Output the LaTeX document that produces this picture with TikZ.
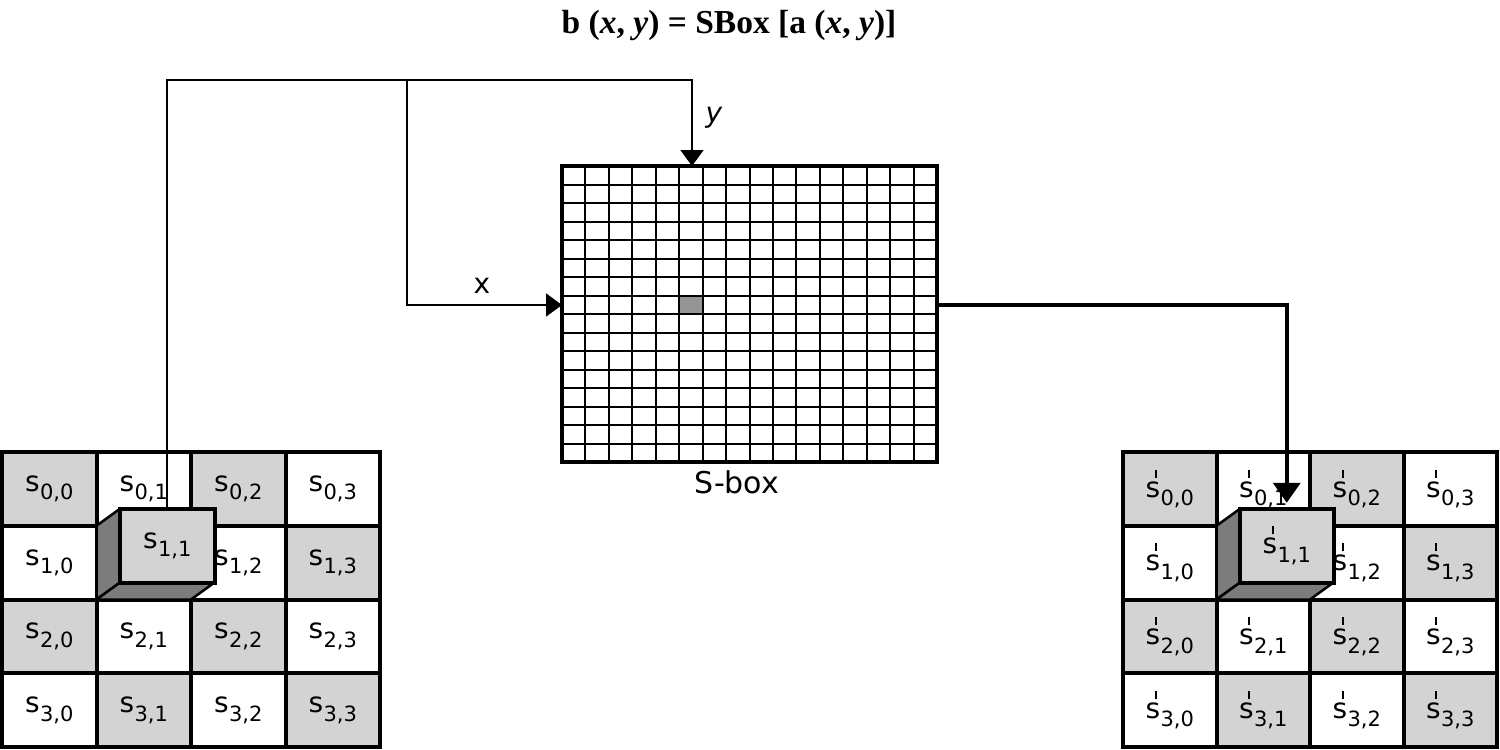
\documentclass[tikz,border=0pt]{standalone}
\usepackage{fontspec}
\setmainfont{DejaVu Sans}
\newfontfamily\titlefont{Liberation Serif}
\usetikzlibrary{arrows.meta}
\definecolor{cellgray}{HTML}{D3D3D3}
\definecolor{sidegray}{HTML}{7C7C7C}
\definecolor{hitgray}{HTML}{959595}
\newcommand\subs[2]{\kern0.5pt\raisebox{-8.5pt}{\fontsize{21}{21}\selectfont#1,#2}}
\newcommand\sL[2]{s\subs{#1}{#2}}
\newcommand\sR[2]{s\llap{\rule[19.5pt]{2pt}{8pt}\kern3.5pt}\subs{#1}{#2}}
\tikzset{
  cell/.style={draw, line width=4pt, minimum width=94.5pt, minimum height=73.75pt,
    inner sep=0pt, outer sep=0pt, font=\fontsize{28}{28}\selectfont},
  cellR/.style={cell, minimum width=93.5pt},
  thinline/.style={line width=2pt},
  conn/.style={line width=2pt, -{Triangle[width=23pt,length=16pt]}},
  outconn/.style={line width=4pt, line join=miter, -{Triangle[width=27pt,length=20pt]}},
  side/.style={fill=sidegray, draw, line width=2.5pt, line join=round},
  lbl/.style={inner sep=0pt, anchor=base, font=\fontsize{28}{28}\selectfont},
}
\begin{document}
\begin{tikzpicture}[x=1pt, y=-1pt]
\useasboundingbox (0,0) rectangle (1500,750);
% title
\node[inner sep=0pt, anchor=base, font=\titlefont\bfseries\fontsize{33.5}{33.5}\selectfont] (title) at (729,33)
  {b (\textit{x}, \textit{y}) = SBox [a (\textit{x}, \textit{y})]};
% left state grid
\foreach \r in {0,...,3}{\foreach \c in {0,...,3}{
  \pgfmathtruncatemacro\pty{mod(\r+\c,2)}
  \ifnum\pty=0 \def\fc{cellgray}\else\def\fc{white}\fi
  \node[cell, fill=\fc] (L\r\c) at ({2+94.5*(\c+0.5)},{452+73.75*(\r+0.5)}) {\sL{\r}{\c}};
}}
% right state grid
\foreach \r in {0,...,3}{\foreach \c in {0,...,3}{
  \pgfmathtruncatemacro\pty{mod(\r+\c,2)}
  \ifnum\pty=0 \def\fc{cellgray}\else\def\fc{white}\fi
  \node[cellR, fill=\fc] (R\r\c) at ({1123+93.5*(\c+0.5)},{452+73.75*(\r+0.5)}) {\sR{\r}{\c}};
}}
% left cube
\node[cell, fill=cellgray, draw=none] (cubeLpos) at ([shift={(23.5,-17)}]L11.center) {};
\draw[side] (L11.north west) -- (cubeLpos.north west) -- (cubeLpos.south west) -- (L11.south west) -- cycle;
\draw[side] (L11.south west) -- (cubeLpos.south west) -- (cubeLpos.south east) -- (L11.south east) -- cycle;
\node[cell, fill=cellgray] (cubeL) at (cubeLpos) {\sL{1}{1}};
% right cube
\node[cellR, fill=cellgray, draw=none] (cubeRpos) at ([shift={(23.5,-17)}]R11.center) {};
\draw[side] (R11.north west) -- (cubeRpos.north west) -- (cubeRpos.south west) -- (R11.south west) -- cycle;
\draw[side] (R11.south west) -- (cubeRpos.south west) -- (cubeRpos.south east) -- (R11.south east) -- cycle;
\node[cellR, fill=cellgray] (cubeR) at (cubeRpos) {\sR{1}{1}};
% S-box
\node[line width=4pt, minimum width=375pt, minimum height=296pt, inner sep=0pt, outer sep=0pt] (sbox) at (749.5,314) {};
\fill[hitgray] (679.2,295.5) rectangle (702.6,314);
\foreach \i in {1,...,15}{
  \draw[thinline] ({562+\i*23.4375},166) -- ({562+\i*23.4375},462);
  \draw[thinline] (562,{166+\i*18.5}) -- (937,{166+\i*18.5});
}
\draw[line width=4pt] (sbox.north west) rectangle (sbox.south east);
\node[lbl, font=\fontsize{30}{30}\selectfont] (sboxlabel) at (737,493) {S-box};
% connectors
\coordinate (ytop) at (692,80);
\coordinate (xbr) at (407,80);
\coordinate (yin) at (692,166);
\coordinate (xin) at (562,305);
\coordinate (xout) at (937,305);
\draw[conn] (cubeL.north) |- (ytop) -- (yin);
\draw[conn] (xbr) |- (xin);
\draw[outconn, shorten >=6pt] (xout) -| (cubeR.north);
\node[lbl] (xlabel) at (482,293) {x};
\node[lbl] (ylabel) at (714,122) {\itshape y};
\end{tikzpicture}
\end{document}
